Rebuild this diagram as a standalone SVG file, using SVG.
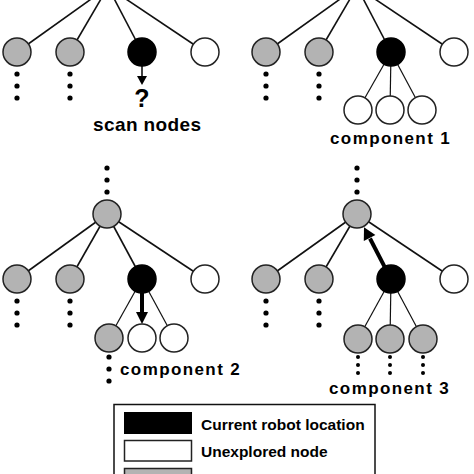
<svg xmlns="http://www.w3.org/2000/svg" width="474" height="474" viewBox="0 0 474 474">
<style>
.g{fill:#b3b3b3;stroke:#222;stroke-width:1.5}
.w{fill:#fff;stroke:#222;stroke-width:1.5}
.b{fill:#000;stroke:#000;stroke-width:1.5}
.e{stroke:#111;stroke-width:1.6;fill:none}
.t{stroke:#111;stroke-width:1.2;fill:none}
.d{fill:#000}
.lbl{font-family:"Liberation Sans",Arial,sans-serif;font-weight:bold;fill:#000}
.cmp{font-size:17px;letter-spacing:1.4px}
</style>
<rect width="474" height="474" fill="#fff"/>
<g id="connectors">
  <line class="e" x1="108" y1="-13" x2="17" y2="52"/>
  <line class="e" x1="108" y1="-13" x2="70" y2="52"/>
  <line class="e" x1="108" y1="-13" x2="142" y2="52"/>
  <line class="e" x1="108" y1="-13" x2="205" y2="52"/>
  <line class="e" x1="142" y1="66" x2="142" y2="77"/>
  <polygon points="137,76 147,76 142,85" fill="#000"/>
  <line class="e" x1="357" y1="-13" x2="266" y2="52"/>
  <line class="e" x1="357" y1="-13" x2="319" y2="52"/>
  <line class="e" x1="357" y1="-13" x2="391" y2="52"/>
  <line class="e" x1="357" y1="-13" x2="454" y2="52"/>
  <line class="t" x1="391" y1="52" x2="358" y2="110"/>
  <line class="t" x1="391" y1="52" x2="390" y2="110"/>
  <line class="t" x1="391" y1="52" x2="422" y2="110"/>
  <line class="e" x1="107" y1="214" x2="17" y2="279"/>
  <line class="e" x1="107" y1="214" x2="70" y2="279"/>
  <line class="e" x1="107" y1="214" x2="142" y2="279"/>
  <line class="e" x1="107" y1="214" x2="205" y2="279"/>
  <line class="t" x1="142" y1="279" x2="109" y2="338"/>
  <line class="t" x1="142" y1="279" x2="174" y2="338"/>
  <line x1="142" y1="293" x2="142" y2="314" stroke="#000" stroke-width="4"/>
  <polygon points="136,312 148,312 142,324" fill="#000"/>
  <line class="e" x1="357" y1="214" x2="266" y2="279"/>
  <line class="e" x1="357" y1="214" x2="319" y2="279"/>
  <line class="e" x1="357" y1="214" x2="454" y2="279"/>
  <line class="t" x1="391" y1="279" x2="358" y2="339"/>
  <line class="t" x1="391" y1="279" x2="390" y2="339"/>
  <line class="t" x1="391" y1="279" x2="423" y2="339"/>
  <line x1="384.5" y1="266.6" x2="370" y2="238.5" stroke="#000" stroke-width="4"/>
  <polygon points="364,227.3 375.4,234.9 363.8,240.9" fill="#000"/>
</g>
<g id="panel1">
  <circle class="g" cx="17" cy="52" r="14"/>
  <circle class="g" cx="70" cy="52" r="14"/>
  <circle class="b" cx="142" cy="52" r="14"/>
  <circle class="w" cx="205" cy="52" r="14"/>
  <circle class="d" cx="17" cy="74" r="2.6"/><circle class="d" cx="17" cy="86" r="2.6"/><circle class="d" cx="17" cy="98" r="2.6"/>
  <circle class="d" cx="70" cy="74" r="2.6"/><circle class="d" cx="70" cy="86" r="2.6"/><circle class="d" cx="70" cy="98" r="2.6"/>
  <text class="lbl" x="142" y="107" font-size="25" text-anchor="middle">?</text>
  <text class="lbl" x="93" y="131" font-size="19" letter-spacing="0.4">scan nodes</text>
</g>
<g id="panel2">
  <circle class="g" cx="266" cy="52" r="14"/>
  <circle class="g" cx="319" cy="52" r="14"/>
  <circle class="b" cx="391" cy="52" r="14"/>
  <circle class="w" cx="454" cy="52" r="14"/>
  <circle class="d" cx="266" cy="74" r="2.6"/><circle class="d" cx="266" cy="86" r="2.6"/><circle class="d" cx="266" cy="98" r="2.6"/>
  <circle class="d" cx="319" cy="74" r="2.6"/><circle class="d" cx="319" cy="86" r="2.6"/><circle class="d" cx="319" cy="98" r="2.6"/>
  <circle class="w" cx="358" cy="110" r="14"/>
  <circle class="w" cx="390" cy="110" r="14"/>
  <circle class="w" cx="422" cy="110" r="14"/>
  <text class="lbl cmp" x="330" y="144">component 1</text>
</g>
<g id="panel3">
  <circle class="d" cx="107" cy="168" r="2.6"/><circle class="d" cx="107" cy="180" r="2.6"/><circle class="d" cx="107" cy="192" r="2.6"/>
  <circle class="g" cx="107" cy="214" r="14"/>
  <circle class="g" cx="17" cy="279" r="14"/>
  <circle class="g" cx="70" cy="279" r="14"/>
  <circle class="b" cx="142" cy="279" r="14"/>
  <circle class="w" cx="205" cy="279" r="14"/>
  <circle class="d" cx="17" cy="301" r="2.6"/><circle class="d" cx="17" cy="313" r="2.6"/><circle class="d" cx="17" cy="325" r="2.6"/>
  <circle class="d" cx="70" cy="301" r="2.6"/><circle class="d" cx="70" cy="313" r="2.6"/><circle class="d" cx="70" cy="325" r="2.6"/>
  <circle class="g" cx="109" cy="338" r="14"/>
  <circle class="w" cx="142" cy="338" r="14"/>
  <circle class="w" cx="174" cy="338" r="14"/>
  <circle class="d" cx="109" cy="357" r="2.6"/><circle class="d" cx="109" cy="369" r="2.6"/><circle class="d" cx="109" cy="381" r="2.6"/>
  <text class="lbl cmp" x="120" y="375">component 2</text>
</g>
<g id="panel4">
  <circle class="d" cx="357" cy="168" r="2.6"/><circle class="d" cx="357" cy="180" r="2.6"/><circle class="d" cx="357" cy="192" r="2.6"/>
  <circle class="g" cx="357" cy="214" r="14"/>
  <circle class="g" cx="266" cy="279" r="14"/>
  <circle class="g" cx="319" cy="279" r="14"/>
  <circle class="b" cx="391" cy="279" r="14"/>
  <circle class="w" cx="454" cy="279" r="14"/>
  <circle class="d" cx="266" cy="301" r="2.6"/><circle class="d" cx="266" cy="313" r="2.6"/><circle class="d" cx="266" cy="325" r="2.6"/>
  <circle class="d" cx="319" cy="301" r="2.6"/><circle class="d" cx="319" cy="313" r="2.6"/><circle class="d" cx="319" cy="325" r="2.6"/>
  <circle class="g" cx="358" cy="339" r="14"/>
  <circle class="g" cx="390" cy="339" r="14"/>
  <circle class="g" cx="423" cy="339" r="14"/>
  <circle class="d" cx="358" cy="357" r="2"/><circle class="d" cx="358" cy="365" r="2"/><circle class="d" cx="358" cy="373" r="2"/>
  <circle class="d" cx="390" cy="357" r="2"/><circle class="d" cx="390" cy="365" r="2"/><circle class="d" cx="390" cy="373" r="2"/>
  <circle class="d" cx="423" cy="357" r="2"/><circle class="d" cx="423" cy="365" r="2"/><circle class="d" cx="423" cy="373" r="2"/>
  <text class="lbl cmp" x="329" y="394">component 3</text>
</g>
<g id="legend">
  <rect x="114" y="404.5" width="261" height="80" fill="#fff" stroke="#111" stroke-width="1.5"/>
  <rect x="124" y="412" width="68" height="22" fill="#000"/>
  <rect x="124.5" y="440.5" width="67" height="20.5" fill="#fff" stroke="#222" stroke-width="1.5"/>
  <rect x="124.5" y="468.5" width="67" height="20" fill="#b3b3b3" stroke="#222" stroke-width="1.5"/>
  <text class="lbl" x="201" y="430" font-size="15.5">Current robot location</text>
  <text class="lbl" x="201" y="457" font-size="15.5">Unexplored node</text>
</g>
</svg>
